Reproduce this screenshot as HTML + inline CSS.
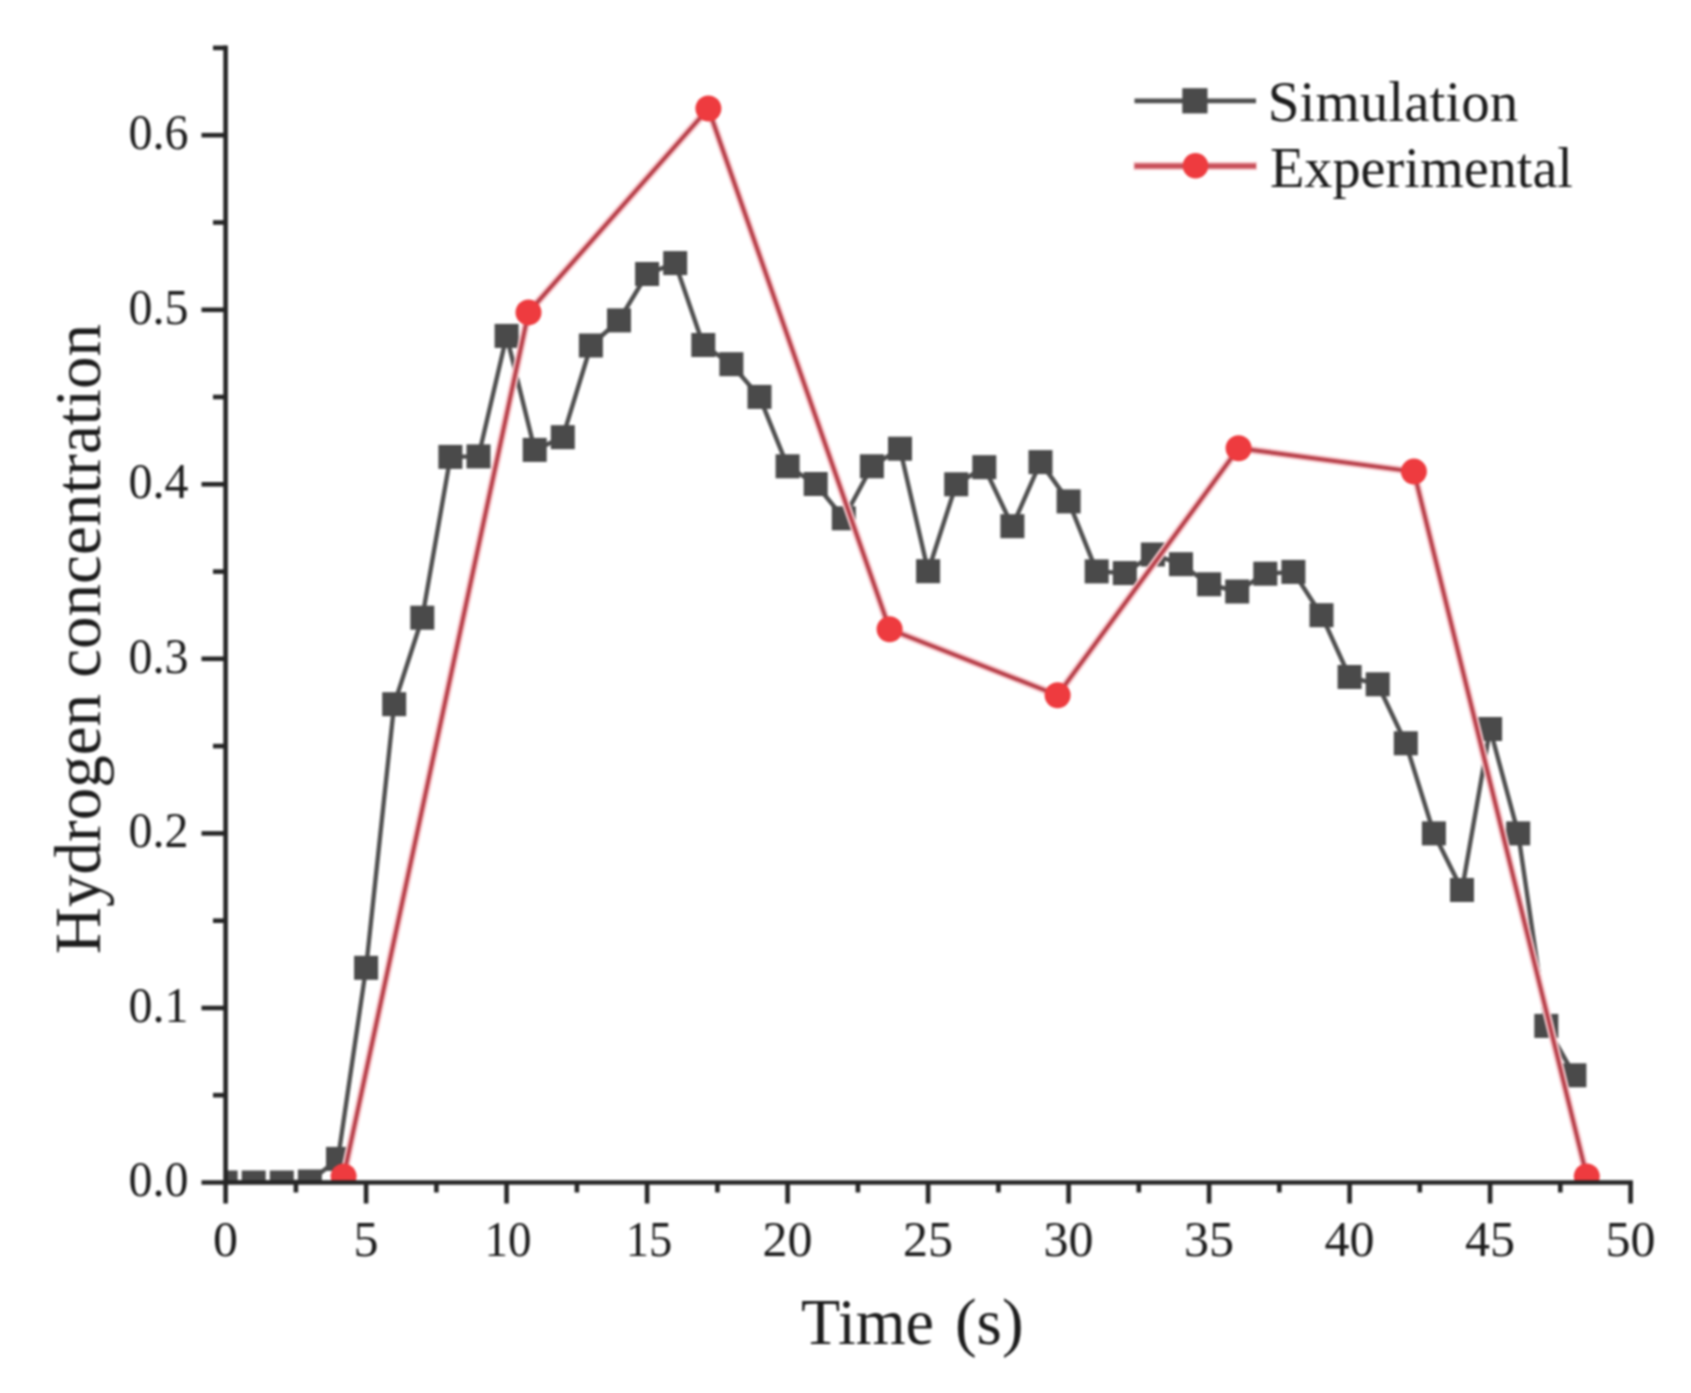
<!DOCTYPE html>
<html lang="en">
<head>
<meta charset="utf-8">
<title>Hydrogen concentration vs Time</title>
<style>
html,body{margin:0;padding:0;background:#fff;}
body{width:1691px;height:1393px;overflow:hidden;}
svg{display:block;filter:blur(1px);}
text{font-family:"Liberation Serif",serif;fill:#1c1c1c;}
.tick{font-size:50px;fill:#2a2a2a;}
.title{font-size:65px;}
.leg{font-size:57.5px;}
</style>
</head>
<body>
<svg width="1691" height="1393" viewBox="0 0 1691 1393">
<rect x="0" y="0" width="1691" height="1393" fill="#ffffff"/>
<defs><clipPath id="plot"><rect x="225.6" y="40" width="1420" height="1142.5"/></clipPath></defs>

<g clip-path="url(#plot)">
<polyline points="225.6,1182.5 253.7,1182.5 281.8,1182.5 309.9,1181.5 338.0,1158.9 366.1,967.8 394.2,704.2 422.3,617.7 450.4,456.9 478.5,456.4 506.6,335.9 534.7,449.9 562.8,437.2 590.9,345.5 619.0,320.4 647.1,274.0 675.2,263.1 703.3,345.0 731.4,364.2 759.5,396.9 787.6,466.3 815.7,484.0 843.8,518.3 871.9,466.3 900.0,448.7 928.1,571.2 956.2,484.3 984.3,467.2 1012.4,526.2 1040.5,462.1 1068.6,501.4 1096.7,571.4 1124.8,573.1 1152.9,554.5 1181.0,564.2 1209.1,584.3 1237.2,591.5 1265.3,573.7 1293.4,571.9 1321.5,615.2 1349.6,677.0 1377.7,684.3 1405.8,743.3 1433.9,833.4 1462.0,890.0 1490.1,729.0 1518.2,833.4 1546.3,1025.9 1574.4,1075.3" fill="none" stroke="#505050" stroke-width="4.4" stroke-linejoin="round"/>
<rect x="213.6" y="1170.5" width="24" height="24" fill="#4a4a4a"/>
<rect x="241.7" y="1170.5" width="24" height="24" fill="#4a4a4a"/>
<rect x="269.8" y="1170.5" width="24" height="24" fill="#4a4a4a"/>
<rect x="297.9" y="1169.5" width="24" height="24" fill="#4a4a4a"/>
<rect x="326.0" y="1146.9" width="24" height="24" fill="#4a4a4a"/>
<rect x="354.1" y="955.8" width="24" height="24" fill="#4a4a4a"/>
<rect x="382.2" y="692.2" width="24" height="24" fill="#4a4a4a"/>
<rect x="410.3" y="605.7" width="24" height="24" fill="#4a4a4a"/>
<rect x="438.4" y="444.9" width="24" height="24" fill="#4a4a4a"/>
<rect x="466.5" y="444.4" width="24" height="24" fill="#4a4a4a"/>
<rect x="494.6" y="323.9" width="24" height="24" fill="#4a4a4a"/>
<rect x="522.7" y="437.9" width="24" height="24" fill="#4a4a4a"/>
<rect x="550.8" y="425.2" width="24" height="24" fill="#4a4a4a"/>
<rect x="578.9" y="333.5" width="24" height="24" fill="#4a4a4a"/>
<rect x="607.0" y="308.4" width="24" height="24" fill="#4a4a4a"/>
<rect x="635.1" y="262.0" width="24" height="24" fill="#4a4a4a"/>
<rect x="663.2" y="251.1" width="24" height="24" fill="#4a4a4a"/>
<rect x="691.3" y="333.0" width="24" height="24" fill="#4a4a4a"/>
<rect x="719.4" y="352.2" width="24" height="24" fill="#4a4a4a"/>
<rect x="747.5" y="384.9" width="24" height="24" fill="#4a4a4a"/>
<rect x="775.6" y="454.3" width="24" height="24" fill="#4a4a4a"/>
<rect x="803.7" y="472.0" width="24" height="24" fill="#4a4a4a"/>
<rect x="831.8" y="506.3" width="24" height="24" fill="#4a4a4a"/>
<rect x="859.9" y="454.3" width="24" height="24" fill="#4a4a4a"/>
<rect x="888.0" y="436.7" width="24" height="24" fill="#4a4a4a"/>
<rect x="916.1" y="559.2" width="24" height="24" fill="#4a4a4a"/>
<rect x="944.2" y="472.3" width="24" height="24" fill="#4a4a4a"/>
<rect x="972.3" y="455.2" width="24" height="24" fill="#4a4a4a"/>
<rect x="1000.4" y="514.2" width="24" height="24" fill="#4a4a4a"/>
<rect x="1028.5" y="450.1" width="24" height="24" fill="#4a4a4a"/>
<rect x="1056.6" y="489.4" width="24" height="24" fill="#4a4a4a"/>
<rect x="1084.7" y="559.4" width="24" height="24" fill="#4a4a4a"/>
<rect x="1112.8" y="561.1" width="24" height="24" fill="#4a4a4a"/>
<rect x="1140.9" y="542.5" width="24" height="24" fill="#4a4a4a"/>
<rect x="1169.0" y="552.2" width="24" height="24" fill="#4a4a4a"/>
<rect x="1197.1" y="572.3" width="24" height="24" fill="#4a4a4a"/>
<rect x="1225.2" y="579.5" width="24" height="24" fill="#4a4a4a"/>
<rect x="1253.3" y="561.7" width="24" height="24" fill="#4a4a4a"/>
<rect x="1281.4" y="559.9" width="24" height="24" fill="#4a4a4a"/>
<rect x="1309.5" y="603.2" width="24" height="24" fill="#4a4a4a"/>
<rect x="1337.6" y="665.0" width="24" height="24" fill="#4a4a4a"/>
<rect x="1365.7" y="672.3" width="24" height="24" fill="#4a4a4a"/>
<rect x="1393.8" y="731.3" width="24" height="24" fill="#4a4a4a"/>
<rect x="1421.9" y="821.4" width="24" height="24" fill="#4a4a4a"/>
<rect x="1450.0" y="878.0" width="24" height="24" fill="#4a4a4a"/>
<rect x="1478.1" y="717.0" width="24" height="24" fill="#4a4a4a"/>
<rect x="1506.2" y="821.4" width="24" height="24" fill="#4a4a4a"/>
<rect x="1534.3" y="1013.9" width="24" height="24" fill="#4a4a4a"/>
<rect x="1562.4" y="1063.3" width="24" height="24" fill="#4a4a4a"/>
<polyline points="343.6,1176.4 528.5,312.4 708.4,108.5 889.6,629.2 1057.6,695.2 1238.6,448.2 1413.9,471.6 1586.8,1176.4" fill="none" stroke="#f7c9cd" stroke-width="8" stroke-linejoin="round"/>
<polyline points="343.6,1176.4 528.5,312.4 708.4,108.5 889.6,629.2 1057.6,695.2 1238.6,448.2 1413.9,471.6 1586.8,1176.4" fill="none" stroke="#b8424c" stroke-width="3.9000000000000004" stroke-linejoin="round"/>
<circle cx="343.6" cy="1176.4" r="13" fill="#ee3b3f"/>
<circle cx="528.5" cy="312.4" r="13" fill="#ee3b3f"/>
<circle cx="708.4" cy="108.5" r="13" fill="#ee3b3f"/>
<circle cx="889.6" cy="629.2" r="13" fill="#ee3b3f"/>
<circle cx="1057.6" cy="695.2" r="13" fill="#ee3b3f"/>
<circle cx="1238.6" cy="448.2" r="13" fill="#ee3b3f"/>
<circle cx="1413.9" cy="471.6" r="13" fill="#ee3b3f"/>
<circle cx="1586.8" cy="1176.4" r="13" fill="#ee3b3f"/>
</g>
<g stroke="#262626" stroke-width="4.6" fill="none" stroke-linecap="butt">
<line x1="225.6" y1="45.6" x2="225.6" y2="1203.5"/>
<line x1="201.5" y1="1182.5" x2="1632.8999999999999" y2="1182.5"/>
<line x1="213" y1="1095.2" x2="225.6" y2="1095.2"/>
<line x1="201.5" y1="1008.0" x2="225.6" y2="1008.0"/>
<line x1="213" y1="920.7" x2="225.6" y2="920.7"/>
<line x1="201.5" y1="833.4" x2="225.6" y2="833.4"/>
<line x1="213" y1="746.1" x2="225.6" y2="746.1"/>
<line x1="201.5" y1="658.8" x2="225.6" y2="658.8"/>
<line x1="213" y1="571.6" x2="225.6" y2="571.6"/>
<line x1="201.5" y1="484.3" x2="225.6" y2="484.3"/>
<line x1="213" y1="397.0" x2="225.6" y2="397.0"/>
<line x1="201.5" y1="309.8" x2="225.6" y2="309.8"/>
<line x1="213" y1="222.5" x2="225.6" y2="222.5"/>
<line x1="201.5" y1="135.2" x2="225.6" y2="135.2"/>
<line x1="213" y1="47.9" x2="225.6" y2="47.9"/>
<line x1="295.9" y1="1182.5" x2="295.9" y2="1192.5"/>
<line x1="366.1" y1="1182.5" x2="366.1" y2="1203.5"/>
<line x1="436.4" y1="1182.5" x2="436.4" y2="1192.5"/>
<line x1="506.6" y1="1182.5" x2="506.6" y2="1203.5"/>
<line x1="576.9" y1="1182.5" x2="576.9" y2="1192.5"/>
<line x1="647.1" y1="1182.5" x2="647.1" y2="1203.5"/>
<line x1="717.4" y1="1182.5" x2="717.4" y2="1192.5"/>
<line x1="787.6" y1="1182.5" x2="787.6" y2="1203.5"/>
<line x1="857.9" y1="1182.5" x2="857.9" y2="1192.5"/>
<line x1="928.1" y1="1182.5" x2="928.1" y2="1203.5"/>
<line x1="998.4" y1="1182.5" x2="998.4" y2="1192.5"/>
<line x1="1068.6" y1="1182.5" x2="1068.6" y2="1203.5"/>
<line x1="1138.8" y1="1182.5" x2="1138.8" y2="1192.5"/>
<line x1="1209.1" y1="1182.5" x2="1209.1" y2="1203.5"/>
<line x1="1279.3" y1="1182.5" x2="1279.3" y2="1192.5"/>
<line x1="1349.6" y1="1182.5" x2="1349.6" y2="1203.5"/>
<line x1="1419.8" y1="1182.5" x2="1419.8" y2="1192.5"/>
<line x1="1490.1" y1="1182.5" x2="1490.1" y2="1203.5"/>
<line x1="1560.3" y1="1182.5" x2="1560.3" y2="1192.5"/>
<line x1="1630.6" y1="1182.5" x2="1630.6" y2="1203.5"/>
</g>
<g class="tick" text-anchor="middle">
<text x="225.6" y="1255.7">0</text>
<text x="366.1" y="1255.7">5</text>
<text x="531.6" y="1255.7" text-anchor="end" textLength="47" lengthAdjust="spacingAndGlyphs">10</text>
<text x="672.2" y="1255.7" text-anchor="end" textLength="46.5" lengthAdjust="spacingAndGlyphs">15</text>
<text x="787.6" y="1255.7">20</text>
<text x="928.1" y="1255.7">25</text>
<text x="1068.6" y="1255.7">30</text>
<text x="1209.1" y="1255.7">35</text>
<text x="1349.6" y="1255.7">40</text>
<text x="1490.1" y="1255.7">45</text>
<text x="1630.6" y="1255.7">50</text>
</g>
<g class="tick" text-anchor="end">
<text x="188.4" y="1196.3" textLength="60" lengthAdjust="spacingAndGlyphs">0.0</text>
<text x="188.4" y="1021.8" textLength="60" lengthAdjust="spacingAndGlyphs">0.1</text>
<text x="188.4" y="847.2" textLength="60" lengthAdjust="spacingAndGlyphs">0.2</text>
<text x="188.4" y="672.7" textLength="60" lengthAdjust="spacingAndGlyphs">0.3</text>
<text x="188.4" y="498.1" textLength="60" lengthAdjust="spacingAndGlyphs">0.4</text>
<text x="188.4" y="323.6" textLength="60" lengthAdjust="spacingAndGlyphs">0.5</text>
<text x="188.4" y="149.0" textLength="60" lengthAdjust="spacingAndGlyphs">0.6</text>
</g>
<text class="title" y="1343.5"><tspan x="801" textLength="133" lengthAdjust="spacingAndGlyphs">Time</tspan><tspan> </tspan><tspan x="955" textLength="68.5" lengthAdjust="spacingAndGlyphs">(s)</tspan></text>
<text class="title" transform="translate(100,639) rotate(-90)" text-anchor="middle">Hydrogen concentration</text>
<line x1="1134.5" y1="100.8" x2="1256" y2="100.8" stroke="#505050" stroke-width="4.800000000000001"/>
<rect x="1182.3000000000002" y="88.2" width="25.2" height="25.2" fill="#4a4a4a"/>
<line x1="1133.5" y1="166" x2="1257" y2="166" stroke="#f7c9cd" stroke-width="8.5"/>
<line x1="1134.5" y1="166" x2="1256" y2="166" stroke="#c8505a" stroke-width="5.0"/>
<circle cx="1195.5" cy="165.8" r="12.8" fill="#ee3b3f"/>
<text class="leg" x="1267.8" y="120.6" textLength="250.5" lengthAdjust="spacingAndGlyphs">Simulation</text>
<text class="leg" x="1270" y="186.8" textLength="303" lengthAdjust="spacingAndGlyphs">Experimental</text>
</svg>
</body>
</html>
